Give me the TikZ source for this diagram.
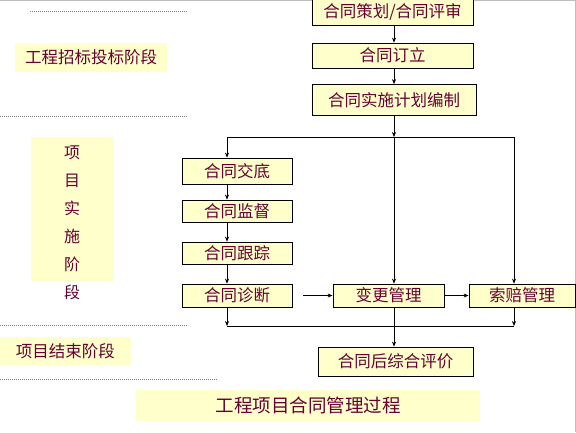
\documentclass[tikz,border=0pt]{standalone}
\usepackage{fontspec}
\newfontfamily\cjk{Noto Sans CJK SC}
\usetikzlibrary{arrows.meta,calc}
\definecolor{boxfill}{RGB}{255,255,204}
\definecolor{txt}{RGB}{102,0,51}
\definecolor{frame}{RGB}{190,190,190}
\begin{document}
\begin{tikzpicture}[x=1pt,y=-1pt,
  flowbox/.style={draw=black,line width=0.8pt,fill=boxfill,text=txt,inner sep=0pt,
    font=\cjk\fontsize{16.5}{18}\selectfont},
  label/.style={fill=boxfill,text=txt,inner sep=0pt,font=\cjk\fontsize{16.5}{18}\selectfont},
  arr/.style={-{Stealth[length=5pt,width=4pt]},line width=0.6pt,black},
  ln/.style={line width=0.6pt,black},
  dots/.style={gray,line width=1pt,dash pattern=on 1pt off 1pt}
]
\useasboundingbox (0,0) rectangle (576,432);
% slide frame
\draw[frame,line width=1pt] (0,0.5) -- (575.5,0.5) -- (575.5,432);
% dotted separators
\draw[dots] (30,11) -- (188,11);
\draw[dots] (0,116) -- (187,116);
\draw[dots] (0,325) -- (187,325);
\draw[dots] (0,379) -- (218,379);
% stage labels
\node[label,minimum width=152,minimum height=29] (zb) at (91,57.5) {工程招标投标阶段};
\node[fill=boxfill,inner sep=0pt,minimum width=83,minimum height=144] (ssbg) at (72.5,209) {};
\node[text=txt,inner sep=0pt,align=center,font=\cjk\fontsize{16}{28}\selectfont] (ss) at (72,223) {项\\目\\实\\施\\阶\\段};
\node[label,minimum width=131,minimum height=28] (js) at (65.5,351) {项目结束阶段};
\node[label,minimum width=344,minimum height=31,font=\cjk\fontsize{18.5}{20}\selectfont] (title) at (308,405.5) {工程项目合同管理过程};
% flow boxes
\node[flowbox,minimum width=161,minimum height=27] (b1) at (392.5,11.5) {合同策划/合同评审};
\node[flowbox,minimum width=161,minimum height=25] (b2) at (392.5,55.5) {合同订立};
\node[flowbox,minimum width=164,minimum height=31] (b3) at (394,100) {合同实施计划编制};
\node[flowbox,minimum width=110,minimum height=26] (jd) at (237,171) {合同交底};
\node[flowbox,minimum width=110,minimum height=22] (jdu) at (237,211) {合同监督};
\node[flowbox,minimum width=110,minimum height=22] (gz) at (237,253) {合同跟踪};
\node[flowbox,minimum width=110,minimum height=23] (zd) at (237,295.5) {合同诊断};
\node[flowbox,minimum width=111,minimum height=23] (bg) at (388.5,295.5) {变更管理};
\node[flowbox,minimum width=106,minimum height=23] (sp) at (522,295.5) {索赔管理};
\node[flowbox,minimum width=155,minimum height=29] (pj) at (395.5,361.5) {合同后综合评价};
% coordinates
\coordinate (J) at (394,137);
\coordinate (Lt) at (227,137);
\coordinate (Rt) at (514,137);
\coordinate (Lb) at (227,326);
\coordinate (Rb) at (514,326);
\coordinate (zdout) at (303,295.5);
% connectors
\draw[arr] (J |- b1.south) -- (J |- b2.north);
\draw[arr] (J |- b2.south) -- (J |- b3.north);
\draw[arr] (J |- b3.south) -- (J);
\draw[ln] (Lt) -- (Rt);
\draw[arr] (J) -- (J |- bg.north);
\draw[arr] (Lt) -- (Lt |- jd.north);
\draw[arr] (Rt) -- (Rt |- sp.north);
\draw[arr] (Lt |- jd.south) -- (Lt |- jdu.north);
\draw[arr] (Lt |- jdu.south) -- (Lt |- gz.north);
\draw[arr] (Lt |- gz.south) -- (Lt |- zd.north);
\draw[arr] (zdout) -- (bg.west);
\draw[arr] (bg.east) -- (sp.west);
\draw[arr] (Lt |- zd.south) -- (Lb);
\draw[arr] (Rt |- sp.south) -- (Rb);
\draw[ln] (Lb) -- (Rb);
\draw[arr] (J |- bg.south) -- (J |- pj.north);
\end{tikzpicture}
\end{document}
